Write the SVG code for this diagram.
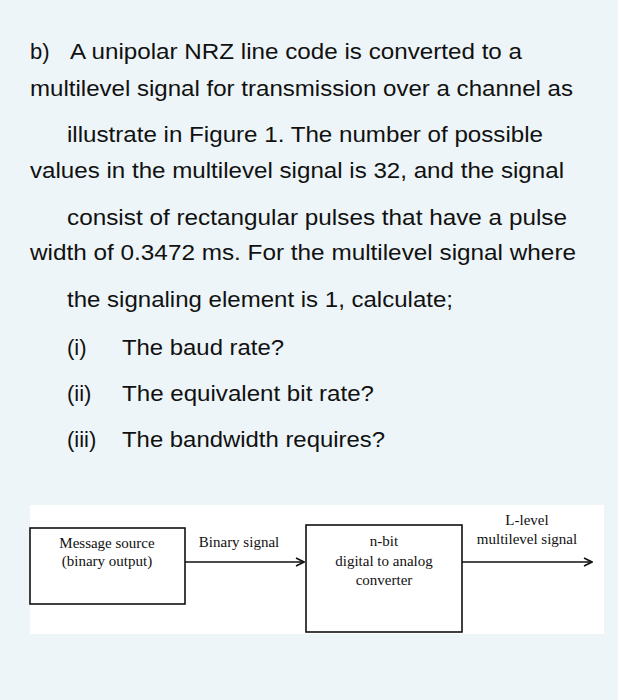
<svg xmlns="http://www.w3.org/2000/svg" width="618" height="700" viewBox="0 0 618 700">
<style>
.t{font-family:"Liberation Sans",Arial,sans-serif;font-size:22px;fill:#111}
.d{font-family:"Liberation Serif","Times New Roman",serif;font-size:15px;fill:#111}
.b{fill:#fff;stroke:#111;stroke-width:1.6}
</style>
<defs><marker id="a" markerWidth="10" markerHeight="10" refX="9" refY="5" orient="auto" markerUnits="userSpaceOnUse"><path d="M1,1 L9,5 L1,9" fill="none" stroke="#111" stroke-width="1.6"/></marker></defs>
<rect width="618" height="700" fill="#edf5f8"/>
<text class="t" x="30" y="59">b)</text>
<text class="t" x="70" y="59" textLength="452" lengthAdjust="spacingAndGlyphs">A unipolar NRZ line code is converted to a</text>
<text class="t" x="30" y="96" textLength="543" lengthAdjust="spacingAndGlyphs">multilevel signal for transmission over a channel as</text>
<text class="t" x="67" y="142" textLength="476" lengthAdjust="spacingAndGlyphs">illustrate in Figure 1. The number of possible</text>
<text class="t" x="30" y="178" textLength="534" lengthAdjust="spacingAndGlyphs">values in the multilevel signal is 32, and the signal</text>
<text class="t" x="67" y="225" textLength="500" lengthAdjust="spacingAndGlyphs">consist of rectangular pulses that have a pulse</text>
<text class="t" x="30" y="260" textLength="546" lengthAdjust="spacingAndGlyphs">width of 0.3472 ms. For the multilevel signal where</text>
<text class="t" x="67" y="307" textLength="386" lengthAdjust="spacingAndGlyphs">the signaling element is 1, calculate;</text>
<text class="t" x="67" y="355">(i)</text>
<text class="t" x="122" y="355" textLength="162" lengthAdjust="spacingAndGlyphs">The baud rate?</text>
<text class="t" x="67" y="401">(ii)</text>
<text class="t" x="122" y="401" textLength="252" lengthAdjust="spacingAndGlyphs">The equivalent bit rate?</text>
<text class="t" x="67" y="447">(iii)</text>
<text class="t" x="122" y="447" textLength="263" lengthAdjust="spacingAndGlyphs">The bandwidth requires?</text>
<rect x="30" y="505" width="574" height="129" fill="#fff"/>
<g id="source"><rect class="b" x="30" y="528" width="155" height="76"/>
<text class="d" x="107" y="548" text-anchor="middle">Message source</text>
<text class="d" x="107" y="566" text-anchor="middle">(binary output)</text></g>
<g id="dac"><rect class="b" x="306" y="525" width="156" height="107"/>
<text class="d" x="384" y="546" text-anchor="middle">n-bit</text>
<text class="d" x="384" y="566" text-anchor="middle">digital to analog</text>
<text class="d" x="384" y="585" text-anchor="middle">converter</text></g>
<g id="connectors" stroke="#111" stroke-width="1.6" fill="none">
<line x1="185" y1="562" x2="304" y2="562" marker-end="url(#a)"/>
<line x1="462" y1="562" x2="592" y2="562" marker-end="url(#a)"/>
</g>
<text class="d" x="239" y="547" text-anchor="middle">Binary signal</text>
<text class="d" x="527" y="525" text-anchor="middle">L-level</text>
<text class="d" x="527" y="544" text-anchor="middle">multilevel signal</text>
</svg>
